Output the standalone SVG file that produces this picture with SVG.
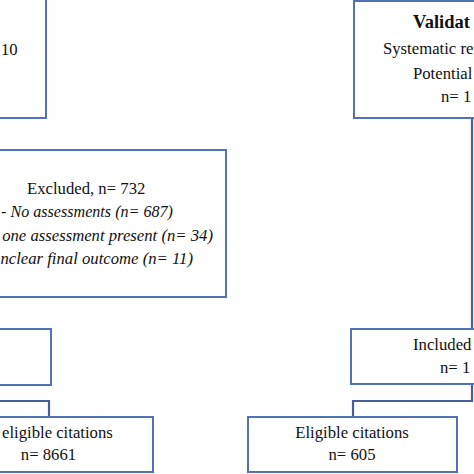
<svg xmlns="http://www.w3.org/2000/svg" width="474" height="474" viewBox="0 0 474 474">
<style>
.box{fill:#ffffff;stroke:#4f72b8;stroke-width:2}
.con{fill:none;stroke:#44609a;stroke-width:2.2}
text{font-family:"Liberation Serif","Times New Roman",serif;font-size:16.7px;fill:#111111}
.b{font-weight:bold;font-size:18.5px}
.i{font-style:italic}
.m{text-anchor:middle}
.e{text-anchor:end}
</style>
<rect width="474" height="474" fill="#ffffff"/>
<g id="connectors">
<line class="con" x1="472" y1="118" x2="472" y2="329"/>
<path class="con" d="M472 384 V401 H353 V417"/>
<path class="con" d="M-10 401 H49 V417"/>
</g>
<g id="node-total">
<rect class="box" x="-60" y="-10" width="106" height="128"/>
<text x="1" y="55">10</text>
</g>
<g id="node-validation">
<rect class="box" x="354" y="1" width="200" height="117"/>
<text class="b" x="413" y="28">Validat</text>
<text x="383" y="54">Systematic re</text>
<text x="413" y="79">Potential</text>
<text x="441" y="102">n= 1</text>
</g>
<g id="node-excluded">
<rect class="box" x="-60" y="150" width="286" height="147"/>
<text x="27" y="194">Excluded, n= 732</text>
<text class="i" x="1" y="217" textLength="172" lengthAdjust="spacingAndGlyphs">- No assessments (n= 687)</text>
<text class="i e" x="213" y="241">one assessment present (n= 34)</text>
<text class="i e" x="193" y="264">nclear final outcome (n= 11)</text>
</g>
<g id="node-left-mid">
<rect class="box" x="-60" y="329" width="111" height="56"/>
</g>
<g id="node-included">
<rect class="box" x="351" y="329" width="200" height="55"/>
<text x="413" y="350">Included</text>
<text x="440" y="373">n= 1</text>
</g>
<g id="node-left-eligible">
<rect class="box" x="-56" y="417" width="209" height="55"/>
<text x="2" y="438">eligible citations</text>
<text class="m" x="48.5" y="460">n= 8661</text>
</g>
<g id="node-eligible">
<rect class="box" x="248" y="417" width="209" height="55"/>
<text class="m" x="352" y="438">Eligible citations</text>
<text class="m" x="352" y="460">n= 605</text>
</g>
</svg>
